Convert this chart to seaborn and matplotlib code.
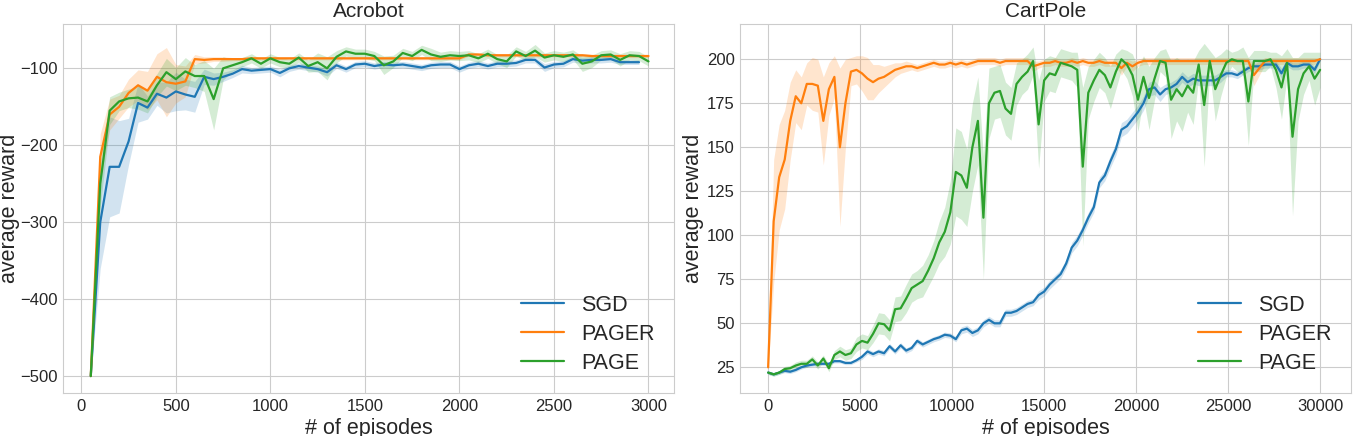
import numpy as np
import matplotlib
matplotlib.use("Agg")
import matplotlib.pyplot as plt
import seaborn as sns

# ---------------- Acrobot (episodes 50..3000) ----------------
acro_x = np.arange(50, 3001, 50)

acro_sgd = [-500, -300, -228, -228, -195, -145, -151, -133, -138, -130,
            -134, -137, -111, -114, -111, -107, -101, -103, -102, -101,
            -106, -100, -97, -99, -101, -105, -96, -101, -95, -94,
            -97, -95, -96, -95, -97, -99, -96, -95, -95, -101,
            -96, -94, -97, -94, -94, -93, -89, -89, -99, -95,
            -94, -88, -90, -89, -89, -88, -92, -92, -92]
acro_sgd_err = [0, 60, 65, 60, 30, 25, 15, 15, 20, 25,
                20, 20, 10, 8, 6, 5, 5, 4, 4, 4,
                5, 4, 4, 4, 4, 5, 4, 4, 4, 4,
                4, 4, 4, 4, 4, 4, 4, 4, 4, 4,
                4, 4, 4, 4, 4, 4, 4, 4, 5, 4,
                4, 4, 4, 4, 4, 4, 3, 3, 3]

acro_pager = [-500, -215, -160, -150, -132, -122, -129, -111, -118, -120,
              -117, -88, -89, -88, -88, -88, -88, -87, -87, -87,
              -87, -87, -87, -87, -87, -87, -87, -87, -87, -87,
              -87, -87, -87, -87, -87, -87, -87, -87, -87, -87,
              -82, -82, -83, -83, -83, -83, -83, -83, -83, -83,
              -83, -83, -83, -84, -84, -84, -84, -84, -84, -84]
acro_pager_err = [0, 30, 20, 15, 18, 20, 25, 30, 45, 25,
                  20, 6, 4, 3, 3, 2, 2, 2, 2, 2,
                  2, 2, 2, 2, 2, 2, 2, 2, 2, 2,
                  2, 2, 2, 2, 2, 2, 2, 2, 2, 2,
                  2, 2, 2, 2, 2, 2, 2, 2, 2, 2,
                  2, 2, 2, 2, 2, 2, 2, 2, 2, 2]

acro_page = [-500, -250, -155, -143, -139, -138, -143, -122, -105, -114,
             -104, -110, -110, -140, -100, -96, -92, -87, -94, -87,
             -92, -94, -86, -97, -92, -100, -85, -78, -81, -81,
             -84, -96, -91, -80, -84, -76, -82, -85, -83, -84,
             -83, -87, -81, -88, -91, -78, -84, -77, -86, -83,
             -85, -82, -94, -91, -83, -82, -89, -83, -84, -91]
acro_page_err = [0, 30, 18, 12, 12, 15, 15, 15, 18, 15,
                 18, 15, 20, 40, 15, 8, 6, 6, 6, 6,
                 6, 6, 6, 8, 12, 15, 8, 6, 6, 6,
                 6, 12, 8, 6, 6, 6, 8, 6, 6, 6,
                 6, 6, 6, 6, 8, 6, 6, 8, 6, 6,
                 6, 6, 10, 8, 6, 6, 8, 6, 6, 6]

# ---------------- CartPole (episodes 0..30000) ----------------
cart_x = np.arange(0, 30001, 300)

cart_sgd = [22, 21, 22, 23, 22.5, 23.5, 25, 26, 26.5, 27,
            27, 27, 28.5, 28.5, 27.5, 27.5, 29, 31, 34, 32.5,
            34, 33, 37, 34, 37.5, 34.5, 36, 40, 38, 39.5,
            41, 42, 43.5, 43, 41, 46, 47, 44.5, 46, 50,
            52, 50, 50, 56, 56, 57, 59, 61, 62, 66,
            68, 72, 75, 78, 84, 93, 97, 103, 110, 116,
            130, 134, 142, 149, 160, 162, 166, 170, 175, 183,
            184, 180, 183, 184, 186, 190, 187, 189, 188, 188,
            188, 188, 190, 192, 192, 191, 193, 195, 196, 196,
            197, 197, 197, 192, 198, 196, 196, 197, 197, 194,
            200]
cart_sgd_err = [1, 1, 1, 1, 1, 1, 1, 1, 1, 1,
                1, 1, 1, 1, 1, 1, 1, 1.5, 1.5, 1.5,
                1.5, 1.5, 1.5, 1.5, 1.5, 1.5, 1.5, 1.5, 1.5, 1.5,
                1.5, 1.5, 1.5, 1.5, 1.5, 2, 2, 2, 2, 2,
                2, 2, 2, 2, 2, 2, 2, 2, 2, 2.5,
                2.5, 2.5, 2.5, 2.5, 2.5, 3, 3, 3, 3, 3,
                3, 3, 3.5, 3.5, 4, 4, 4, 4, 4, 4,
                4, 4, 3, 3, 3, 3, 3, 3, 3, 3,
                3, 3, 3, 2, 2, 2, 2, 2, 2, 2,
                2, 2, 2, 3, 2, 2, 2, 2, 2, 2,
                1]

cart_pager = [25, 108, 133, 143, 165, 179, 175, 186, 186, 185,
              165, 183, 190, 150, 175, 193, 194, 192, 189, 187,
              189, 190, 192, 194, 195, 196, 196, 195, 196, 197,
              198, 197, 197, 198, 197, 198, 197, 198, 199, 199,
              199, 199, 198, 199, 199, 199, 199, 199, 196, 197,
              198, 198, 199, 198, 198, 199, 198, 199, 198, 198,
              199, 198, 198, 198, 195, 198, 196, 198, 199, 199,
              199, 199, 199, 199, 199, 199, 199, 199, 199, 199,
              199, 199, 199, 199, 199, 199, 199, 199, 191, 195,
              199, 199, 199, 199, 199, 199, 199, 199, 199, 199,
              200]
cart_pager_err = [1, 35, 30, 28, 22, 15, 15, 12, 15, 15,
                  25, 15, 12, 45, 25, 8, 8, 10, 12, 10,
                  8, 6, 5, 4, 3, 3, 2, 2, 2, 2,
                  2, 2, 2, 2, 2, 2, 2, 2, 2, 2,
                  2, 2, 2, 2, 2, 2, 2, 2, 3, 2,
                  2, 2, 2, 2, 2, 2, 2, 2, 2, 2,
                  2, 2, 2, 2, 4, 2, 3, 2, 2, 2,
                  2, 2, 2, 2, 2, 2, 2, 2, 2, 2,
                  2, 2, 2, 2, 2, 2, 2, 2, 6, 4,
                  2, 2, 2, 2, 2, 2, 2, 2, 2, 2,
                  1]

cart_page = [22, 21, 22, 24, 24.5, 26, 27, 27, 29.5, 26,
             30, 24.5, 32, 34, 32, 33, 38, 40, 39, 44,
             50, 49.5, 46, 58, 58.5, 64, 70, 72, 74, 80,
             87, 96, 102, 113, 136, 134, 127, 150, 165, 110,
             175, 181, 182, 172, 169, 186, 190, 193, 199, 163,
             188, 192, 191, 198, 197, 196, 194, 139, 181, 188,
             194, 191, 184, 193, 200, 197, 191, 177, 190, 178,
             189, 199, 198, 177, 183, 179, 185, 181, 197, 174,
             199, 183, 191, 198, 200, 199, 199, 176, 199, 199,
             199, 200, 194, 184, 198, 156, 183, 192, 196, 189,
             194]
cart_page_err = [1, 1, 1, 1.5, 1.5, 2, 2, 2, 2, 2,
                 2, 2, 2.5, 3, 3, 3, 4, 4, 4, 5,
                 6, 6, 6, 7, 7, 8, 8, 8, 9, 9,
                 10, 12, 14, 18, 25, 25, 22, 25, 25, 35,
                 20, 15, 15, 15, 15, 12, 10, 10, 8, 25,
                 12, 10, 10, 8, 8, 8, 10, 45, 15, 12,
                 10, 10, 12, 10, 6, 8, 12, 18, 12, 18,
                 12, 6, 8, 22, 18, 20, 15, 18, 8, 35,
                 6, 18, 12, 8, 4, 6, 8, 25, 6, 6,
                 6, 4, 10, 18, 8, 45, 18, 12, 8, 15,
                 10]

# axis ticks
acro_xticks = [0, 500, 1000, 1500, 2000, 2500, 3000]
acro_yticks = [-500, -400, -300, -200, -100]
cart_xticks = [0, 5000, 10000, 15000, 20000, 25000, 30000]
cart_yticks = [25, 50, 75, 100, 125, 150, 175, 200]

method_names = ["SGD", "PAGER", "PAGE"]
colors = sns.color_palette("tab10")[:3]


def draw_panel(ax, x, series, errs, title, xticks, yticks, xlim, ylim,
               ylabel_x):
    for name, y, e, c in zip(method_names, series, errs, colors):
        y = np.asarray(y, dtype=float)
        e = np.asarray(e, dtype=float)
        xs = x[:len(y)]
        sns.lineplot(x=xs, y=y, ax=ax, color=c, label=name, linewidth=1.6)
        ax.fill_between(xs, y - e, y + e, color=c, alpha=0.2, linewidth=0)
    ax.set_title(title, fontsize=15, pad=5)
    ax.set_xlabel("# of episodes", fontsize=15.5, labelpad=3)
    ax.set_ylabel("average reward", fontsize=15.5)
    ax.yaxis.set_label_coords(ylabel_x, 0.5)
    ax.set_xticks(xticks)
    ax.set_yticks(yticks)
    ax.set_xlim(*xlim)
    ax.set_ylim(*ylim)
    ax.tick_params(labelsize=12, pad=4, length=0)
    ax.legend(loc="lower right", frameon=False, fontsize=15.5,
              labelspacing=0.37)


def main():
    sns.set_style("whitegrid")
    plt.rcParams["font.family"] = ["Liberation Sans", "DejaVu Sans"]

    fig, axes = plt.subplots(1, 2, figsize=(13.54, 4.36), dpi=100)
    fig.subplots_adjust(left=0.0468, right=0.9978, bottom=0.0986,
                        top=0.9456, wspace=0.108)

    draw_panel(axes[0], acro_x,
               [acro_sgd, acro_pager, acro_page],
               [acro_sgd_err, acro_pager_err, acro_page_err],
               "Acrobot", acro_xticks, acro_yticks,
               (-95, 3136), (-522, -42), -0.071)
    draw_panel(axes[1], cart_x,
               [cart_sgd, cart_pager, cart_page],
               [cart_sgd_err, cart_pager_err, cart_page_err],
               "CartPole", cart_xticks, cart_yticks,
               (-1520, 31680), (10.4, 220.2), -0.059)

    fig.savefig("out.png", dpi=100)


if __name__ == "__main__":
    main()
